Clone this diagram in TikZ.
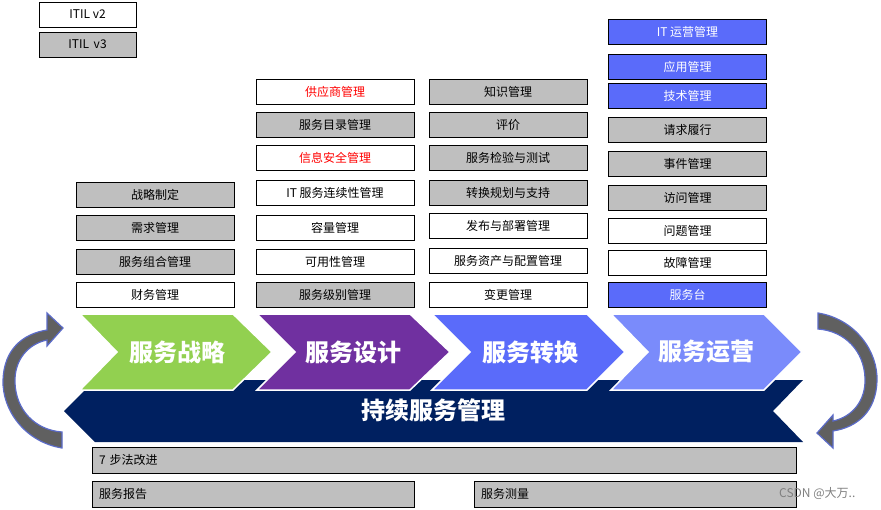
\documentclass[tikz,border=0pt]{standalone}
\usepackage{fontspec}
\setmainfont{Noto Sans CJK SC}
\begin{document}
\begin{tikzpicture}[x=1pt,y=-1pt,
  bx/.style={draw=black,line width=0.8pt,minimum width=158pt,minimum height=25pt,inner sep=0pt,font=\fontsize{12}{13}\selectfont},
  w/.style={bx,fill=white},
  g/.style={bx,fill=gray75},
  b/.style={bx,fill=itblue,text=white},
  ch/.style={draw=white,line width=1.5pt},
  cht/.style={text=white,font=\fontsize{24}{26}\selectfont\bfseries},
  carrow/.style={fill=gray!75!black,draw=arrowblue,line width=1.2pt}]
\definecolor{gray75}{HTML}{BFBFBF}
\definecolor{itblue}{HTML}{5A6BFA}
\definecolor{lblue}{HTML}{7A8BFB}
\definecolor{navy}{HTML}{002060}
\definecolor{green1}{HTML}{92D050}
\definecolor{purple1}{HTML}{7030A0}
\definecolor{arrowblue}{HTML}{5B6BC8}
\useasboundingbox (0,0) rectangle (881,509);
\fill[white] (0,0) rectangle (881,509);
% ITIL legend
\node[w,minimum width=97pt] (v2) at (87.5,14.5) {ITIL v2};
\node[g,minimum width=97pt] (v3) at (87.5,44.5) {ITIL\, v3};
% column 1
\node[g] (c1a) at (155,194.5) {战略制定};
\node[g] (c1b) at (155,227.5) {需求管理};
\node[g] (c1c) at (155,261.5) {服务组合管理};
\node[w] (c1d) at (155,294.5) {财务管理};
% column 2
\node[w,text=red] (c2a) at (335,91.5) {供应商管理};
\node[g] (c2b) at (335,124.5) {服务目录管理};
\node[w,text=red] (c2c) at (335,157.5) {信息安全管理};
\node[w] (c2d) at (335,193) {IT 服务连续性管理};
\node[w] (c2e) at (335,227.5) {容量管理};
\node[w] (c2f) at (335,261.5) {可用性管理};
\node[g] (c2g) at (335,294.5) {服务级别管理};
% column 3
\node[g] (c3a) at (508,91.5) {知识管理};
\node[g] (c3b) at (508,124.5) {评价};
\node[g] (c3c) at (508,157.5) {服务检验与测试};
\node[g] (c3d) at (508,193) {转换规划与支持};
\node[w] (c3e) at (508,225.5) {发布与部署管理};
\node[w] (c3f) at (508,260.5) {服务资产与配置管理};
\node[w] (c3g) at (508,294.5) {变更管理};
% column 4
\node[b] (c4a) at (687.5,31.5) {IT 运营管理};
\node[b] (c4b) at (687.5,66.5) {应用管理};
\node[b] (c4c) at (687.5,96) {技术管理};
\node[g] (c4d) at (687.5,130) {请求履行};
\node[g] (c4e) at (687.5,164) {事件管理};
\node[g] (c4f) at (687.5,198) {访问管理};
\node[w] (c4g) at (687.5,230.5) {问题管理};
\node[w] (c4h) at (687.5,262.5) {故障管理};
\node[b] (c4i) at (687.5,294.5) {服务台};
% navy band
\fill[navy] (64,411) -- (95,380) -- (803,380) -- (773,411) -- (803,442) -- (95,442) -- cycle;
\node[cht] (csi) at (433,410) {持续服务管理};
% chevrons
\filldraw[ch,fill=green1] (80,314) -- (233,314) -- (272,352) -- (233,390) -- (80,390) -- (117,352) -- cycle;
\filldraw[ch,fill=purple1] (257,314) -- (410,314) -- (450,352) -- (410,390) -- (257,390) -- (295,352) -- cycle;
\filldraw[ch,fill=itblue] (432,314) -- (587,314) -- (625,352) -- (587,390) -- (432,390) -- (470,352) -- cycle;
\filldraw[ch,fill=lblue] (611,314) -- (764,314) -- (802,352) -- (764,390) -- (611,390) -- (648,352) -- cycle;
\node[cht] (s1) at (177,352) {服务战略};
\node[cht] (s2) at (353,352) {服务设计};
\node[cht] (s3) at (530,352) {服务转换};
\node[cht] (s4) at (706,352) {服务运营};
% curved arrows
\def\cpath{(62,448) .. controls (25,442) and (2,410) .. (3,380) .. controls (4,350) and (22,334) .. (47,330) -- (47,313) -- (63,328) -- (47,346) -- (47,340) .. controls (28,344) and (14,360) .. (15,383) .. controls (16,410) and (35,430) .. (62,432) -- cycle}
\filldraw[carrow] \cpath;
\begin{scope}[shift={(880,761)},xscale=-1,yscale=-1]
\filldraw[carrow] \cpath;
\end{scope}
% bottom boxes
\node[g,minimum width=704pt,minimum height=26pt,text width=690pt,align=left] (imp) at (444,460) {7 步法改进};
\node[g,minimum width=322pt,minimum height=26pt,text width=308pt,align=left] (rep) at (253,494) {服务报告};
\node[g,minimum width=322pt,minimum height=26pt,text width=308pt,align=left] (mea) at (635,494) {服务测量};
\node[text=gray,font=\fontsize{12}{13}\selectfont,anchor=west,inner sep=0pt] (wm) at (779,493) {CSDN @大万..};
\end{tikzpicture}
\end{document}
